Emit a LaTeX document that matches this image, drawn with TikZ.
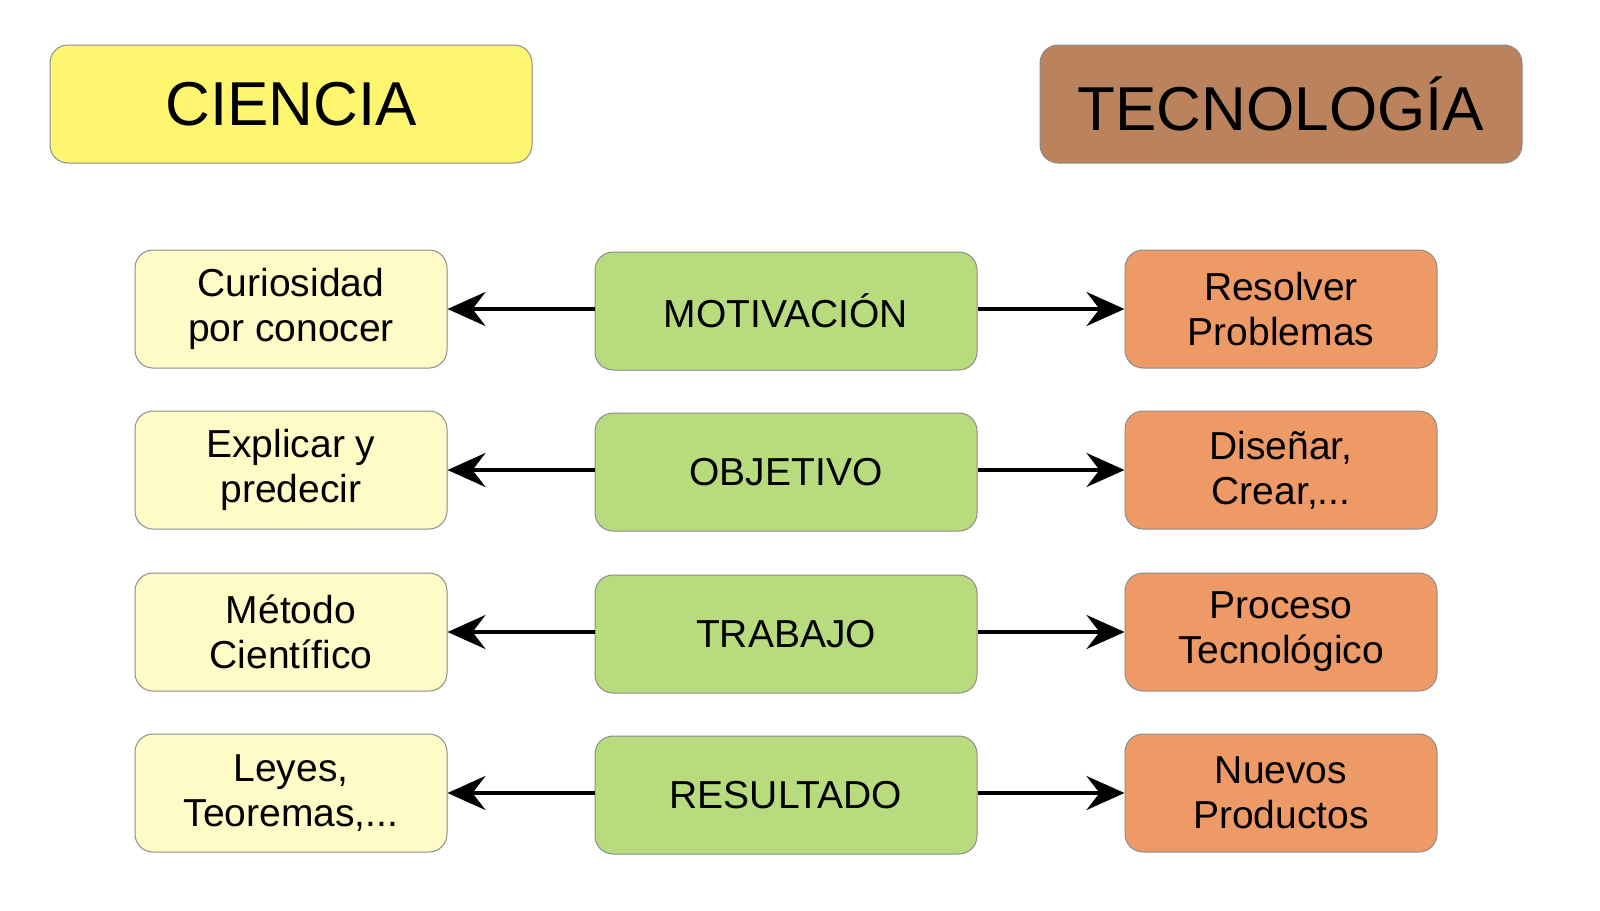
\documentclass[tikz,border=0pt]{standalone}
\usepackage{fontspec}
\setmainfont{Liberation Sans}
\usetikzlibrary{arrows.meta}
\definecolor{ttl}{HTML}{FFF670}
\definecolor{ttb}{HTML}{BA835D}
\definecolor{lft}{HTML}{FFFBC6}
\definecolor{mid}{HTML}{B8DB7E}
\definecolor{rgt}{HTML}{EE9A67}
\tikzset{
 bx/.style={draw=black!45,line width=1pt,rounded corners=18pt,minimum height=118pt,align=center,inner sep=0pt,font=\fontsize{39}{45}\selectfont},
 title/.style={bx,minimum width=482pt,font=\fontsize{62}{68}\selectfont},
 lb/.style={bx,fill=lft,minimum width=312pt},
 mb/.style={bx,fill=mid,minimum width=382pt},
 rb/.style={bx,fill=rgt,minimum width=312pt},
 ar/.style={line width=4pt,-{Stealth[length=38pt,width=34pt,inset=13pt]}}
}
\begin{document}
\begin{tikzpicture}[x=1pt,y=-1pt]
\useasboundingbox (0,0) rectangle (1600,910);
\node[title,fill=ttl] (c) at (291,104) {CIENCIA};
\node[title,fill=ttb] (t) at (1281,104) {TECNOLOGÍA};
\foreach \i/\y/\l/\m/\r in {
 1/309/{Curiosidad\\por conocer}/{MOTIVACIÓN}/{Resolver\\Problemas},
 2/470/{Explicar y\\predecir}/{OBJETIVO}/{Diseñar,\\Crear,...},
 3/632/{Método\\Científico}/{TRABAJO}/{Proceso\\Tecnológico},
 4/793/{Leyes,\\Teoremas,...}/{RESULTADO}/{Nuevos\\Productos}} {
 \node[lb] (l\i) at (291,\y) {\l};
 \node[mb] (m\i) at (786,\y+2) {\m};
 \node[rb] (r\i) at (1281,\y) {\r};
 \draw[ar] (m\i.west|-l\i) -- (l\i.east);
 \draw[ar] (m\i.east|-r\i) -- (r\i.west);
}
\end{tikzpicture}
\end{document}
